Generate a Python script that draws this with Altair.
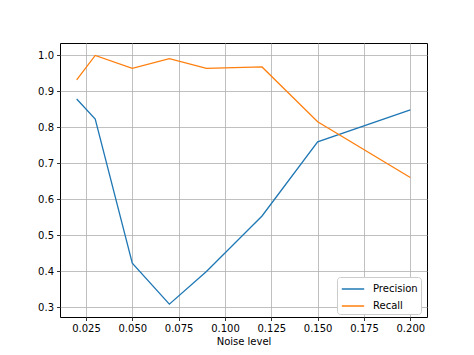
import altair as alt
import pandas as pd

noise = [0.02, 0.03, 0.05, 0.07, 0.09, 0.12, 0.15, 0.20]
precision = [0.879, 0.823, 0.423, 0.309, 0.400, 0.554, 0.760, 0.849]
recall = [0.932, 1.000, 0.964, 0.991, 0.964, 0.968, 0.816, 0.661]
series = ["Precision", "Recall"]
colors = ["#1f77b4", "#ff7f0e"]
x_ticks = [0.025, 0.05, 0.075, 0.1, 0.125, 0.15, 0.175, 0.2]
y_ticks = [0.3, 0.4, 0.5, 0.6, 0.7, 0.8, 0.9, 1.0]

rows = []
for s, vals in zip(series, [precision, recall]):
    for n, v in zip(noise, vals):
        rows.append({"Noise level": n, "value": v, "series": s})
df = pd.DataFrame(rows)

font = "DejaVu Sans"

chart = alt.Chart(df).mark_line(strokeWidth=1.3).encode(
    x=alt.X("Noise level:Q",
            scale=alt.Scale(domain=[0.011, 0.209], nice=False, zero=False),
            axis=alt.Axis(values=x_ticks, format=".3f", title="Noise level")),
    y=alt.Y("value:Q",
            scale=alt.Scale(domain=[0.2734, 1.0346], nice=False, zero=False),
            axis=alt.Axis(values=y_ticks, format=".1f", title=None)),
    color=alt.Color("series:N",
                    scale=alt.Scale(domain=series, range=colors),
                    legend=alt.Legend(title=None, orient="none",
                                      legendX=277, legendY=234,
                                      symbolType="M-1.4,0L1.4,0", symbolSize=256,
                                      symbolStrokeWidth=1.5,
                                      symbolFillColor="transparent",
                                      symbolOffset=4,
                                      labelFontSize=10, labelFont=font,
                                      labelColor="#000000", labelOffset=11,
                                      padding=3, rowPadding=3,
                                      strokeColor="#cccccc", fillColor="white",
                                      cornerRadius=3)),
).properties(
    width=367, height=274,
    autosize=alt.AutoSizeParams(type="none"),
    padding={"left": 52, "top": 35, "right": 39, "bottom": 30},
).configure_view(
    stroke="#000000", strokeWidth=1
).configure_axis(
    grid=True, gridColor="#b0b0b0", gridWidth=0.8,
    domain=False,
    tickColor="#000000", tickSize=3.5, tickWidth=0.8,
    labelFont=font, labelFontSize=10, labelColor="#000000",
    titleFont=font, titleFontSize=10, titleColor="#000000",
    titleFontWeight="normal", labelPadding=3, titlePadding=3,
)

chart.save("out.html", embed_options={"renderer": "svg", "actions": False})
